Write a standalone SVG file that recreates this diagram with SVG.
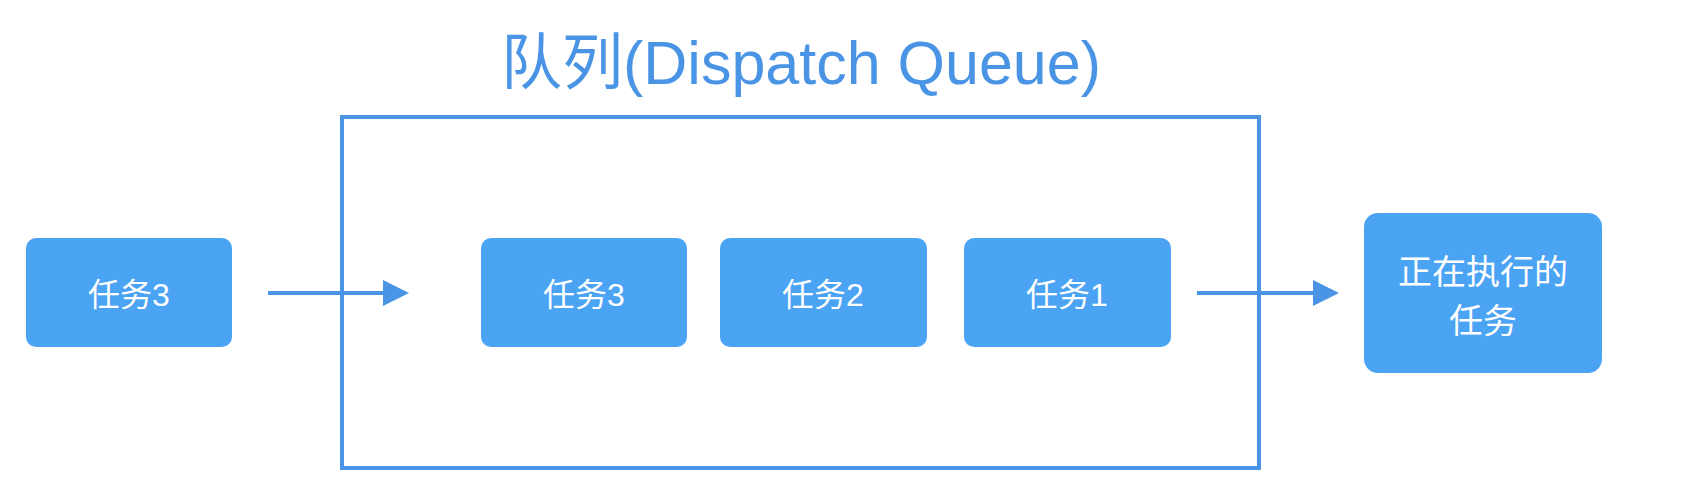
<svg xmlns="http://www.w3.org/2000/svg" width="1686" height="496" viewBox="0 0 1686 496">
<style>
.node{fill:#4ba3f4;}
.lbl{fill:#ffffff;font-family:"Liberation Sans","Noto Sans CJK SC",sans-serif;font-size:32px;text-anchor:middle;}
.big{font-size:34px;}
.title{fill:#4a94e6;font-family:"Liberation Sans","Noto Sans CJK SC",sans-serif;font-size:61px;text-anchor:middle;}
.conn{stroke:#4a94e6;stroke-width:4;fill:none;}
</style>
<defs>
<marker id="arrow" markerUnits="userSpaceOnUse" markerWidth="26" markerHeight="26" refX="14" refY="13" orient="auto">
<path d="M0,0 L26,13 L0,26 Z" fill="#4a94e6"/>
</marker>
</defs>
<rect fill="#ffffff" x="0" y="0" width="1686" height="496"/>
<g id="queue">
<rect x="342" y="117" width="917" height="351" fill="none" stroke="#4a94e6" stroke-width="4"/>
<text class="title" x="801" y="84">队列(Dispatch Queue)</text>
</g>
<g id="connectors">
<line class="conn" x1="268" y1="293" x2="397" y2="293" marker-end="url(#arrow)"/>
<line class="conn" x1="1197" y1="293" x2="1327" y2="293" marker-end="url(#arrow)"/>
</g>
<g id="task3-waiting">
<rect class="node" x="26" y="238" width="206" height="109" rx="10"/>
<text class="lbl" x="129" y="306">任务3</text>
</g>
<g id="task3">
<rect class="node" x="481" y="238" width="206" height="109" rx="10"/>
<text class="lbl" x="584" y="306">任务3</text>
</g>
<g id="task2">
<rect class="node" x="720" y="238" width="207" height="109" rx="10"/>
<text class="lbl" x="823" y="306">任务2</text>
</g>
<g id="task1">
<rect class="node" x="964" y="238" width="207" height="109" rx="10"/>
<text class="lbl" x="1067" y="306">任务1</text>
</g>
<g id="running">
<rect class="node" x="1364" y="213" width="238" height="160" rx="14"/>
<text class="lbl big" x="1483" y="284">正在执行的</text>
<text class="lbl big" x="1483" y="333">任务</text>
</g>
</svg>
